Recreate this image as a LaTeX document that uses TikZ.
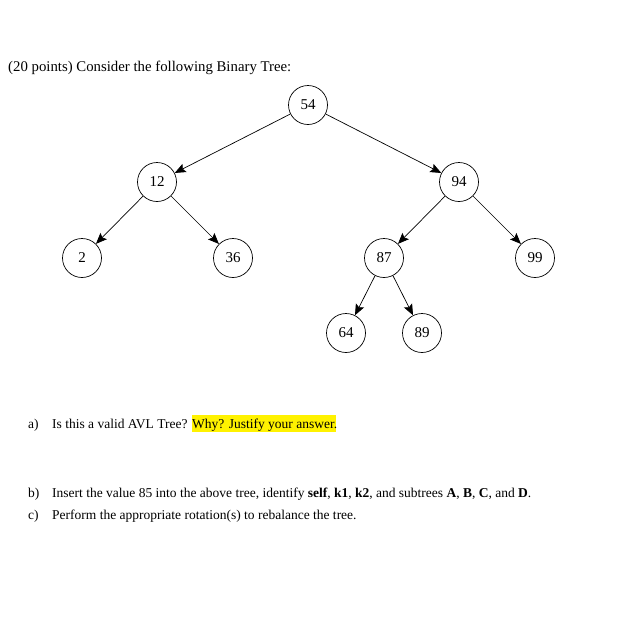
\documentclass[tikz,border=0pt]{standalone}
\usepackage{fontspec}
\setmainfont{Liberation Serif}
\usetikzlibrary{arrows.meta}
\begin{document}
\begin{tikzpicture}[x=1pt,y=-1pt,
  tn/.style={draw,circle,minimum size=39pt,inner sep=0pt,line width=0.7pt,font=\fontsize{15}{17}\selectfont},
  edge/.style={-{Stealth[length=11pt,width=9pt,inset=2pt]},line width=0.7pt},
  txt/.style={anchor=base west,inner sep=0pt,font=\fontsize{13.5}{16}\selectfont}]
\useasboundingbox (0,0) rectangle (629,638);
\node[txt,font=\fontsize{14.8}{17}\selectfont] (title) at (8,71) {(20 points) Consider the following Binary Tree:};
\node[tn] (n54) at (308,105) {54};
\node[tn] (n12) at (157,182) {12};
\node[tn] (n94) at (459,182) {94};
\node[tn] (n2) at (82,258) {2};
\node[tn] (n36) at (233,258) {36};
\node[tn] (n87) at (384,258) {87};
\node[tn] (n99) at (535,258) {99};
\node[tn] (n64) at (346,333) {64};
\node[tn] (n89) at (422,333) {89};
\draw[edge] (n54) -- (n12);
\draw[edge] (n54) -- (n94);
\draw[edge] (n12) -- (n2);
\draw[edge] (n12) -- (n36);
\draw[edge] (n94) -- (n87);
\draw[edge] (n94) -- (n99);
\draw[edge] (n87) -- (n64);
\draw[edge] (n87) -- (n89);
\fill[yellow] (192,415) rectangle (336,432);
\node[txt] (la) at (28,428) {a)};
\node[txt] (ta) at (52,428) {Is this a valid AVL Tree? Why? Justify your answer.};
\node[txt] (lb) at (28,497) {b)};
\node[txt] (tb) at (52,497) {Insert the value 85 into the above tree, identify \textbf{self}, \textbf{k1}, \textbf{k2}, and subtrees \textbf{A}, \textbf{B}, \textbf{C}, and \textbf{D}.};
\node[txt] (lc) at (28,519) {c)};
\node[txt] (tc) at (52,519) {Perform the appropriate rotation(s) to rebalance the tree.};
\end{tikzpicture}
\end{document}
